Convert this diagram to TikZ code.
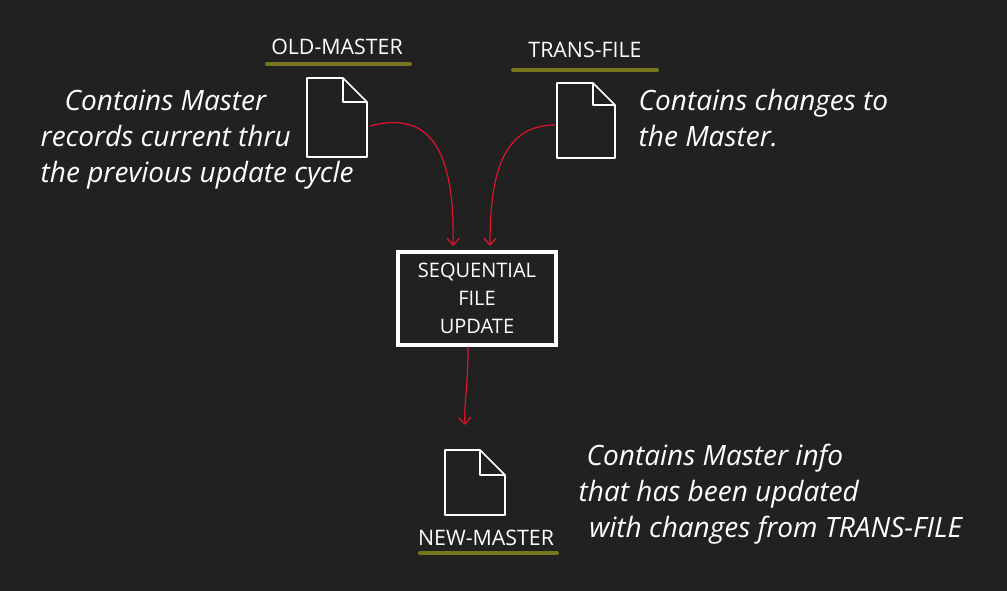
\documentclass[tikz,border=0pt]{standalone}
\usepackage{fontspec}
\setmainfont{Open Sans}
\usetikzlibrary{arrows.meta}
\definecolor{bg}{HTML}{212121}
\definecolor{olive}{HTML}{77761F}
\definecolor{redarr}{HTML}{E0142E}
\tikzset{
  doc/.style={draw=white, line width=1.2pt, line join=round},
  lbl/.style={text=white, font=\fontsize{16}{18}\selectfont},
  note/.style={text=white, font=\fontsize{21}{27}\selectfont\itshape, align=left, anchor=west},
  uline/.style={draw=olive, line width=3pt, line cap=round},
  arr/.style={draw=redarr, line width=0.9pt, -{Straight Barb[length=5pt,width=9pt]}},
}
\begin{document}
\begin{tikzpicture}[x=0.75pt,y=-0.75pt]
\fill[bg] (0,0) rectangle (1007,591);
\useasboundingbox (0,0) rectangle (1007,591);
% old master doc
\draw[doc] (307,78) -- (343,78) -- (367,102) -- (367,157) -- (307,157) -- cycle;
\draw[doc] (343,78) -- (343,102) -- (367,102);
\coordinate (oldout) at (370,126);
\node[lbl] (oldlbl) at (337,47) {OLD-MASTER};
\draw[uline] (267,64) -- (410,64);
% trans doc
\draw[doc] (557,83) -- (593,83) -- (615,105) -- (615,158) -- (557,158) -- cycle;
\draw[doc] (593,83) -- (593,105) -- (615,105);
\coordinate (transout) at (555,125);
\node[lbl] (translbl) at (585,50) {TRANS-FILE};
\draw[uline] (513,70) -- (657,70);
% notes
\node[note] (n1) at (36,140) {\hspace*{18pt}Contains Master\\records current thru\\the previous update cycle};
\node[note] (n2) at (634,118) {Contains changes to\\the Master.};
\node[note] (n3) at (574,494) {\hspace*{6pt}Contains Master info\\that has been updated\\\hspace*{8pt}with changes from TRANS-FILE};
% box
\node[draw=white, line width=2.5pt, minimum width=158*0.75pt, minimum height=93*0.75pt, align=center, lbl, font=\fontsize{15}{21}\selectfont] (box) at (477,298.5) {SEQUENTIAL\\FILE\\UPDATE};
% new doc
\draw[doc] (445,450) -- (480,450) -- (505,475) -- (505,515) -- (445,515) -- cycle;
\draw[doc] (480,450) -- (480,475) -- (505,475);
\coordinate (newin) at (465,425);
\node[lbl] (newlbl) at (486,538) {NEW-MASTER};
\draw[uline] (420,553) -- (557,553);
% arrows
\draw[arr] (oldout) .. controls (430,110) and (455,150) .. (453,246);
\draw[arr] (transout) .. controls (500,125) and (490,180) .. (490,246);
\draw[arr] (box.south -| 468,0) .. controls (468,390) and (464,400) .. (newin);
\end{tikzpicture}
\end{document}
